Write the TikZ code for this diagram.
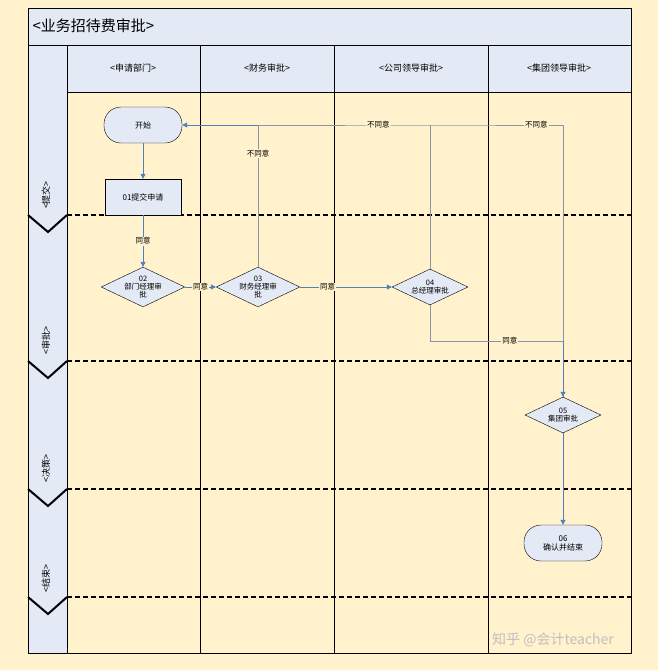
\documentclass[tikz,border=0pt]{standalone}
\usepackage{fontspec}
\setmainfont{Liberation Serif}
\newfontfamily\cjk{Noto Sans CJK SC}
\usetikzlibrary{shapes.geometric,arrows.meta}
\definecolor{cream}{HTML}{FFF2CC}
\definecolor{paleblue}{HTML}{E3EAF5}
\definecolor{flowblue}{HTML}{4F81BD}
\definecolor{linegray}{HTML}{8A96A8}
\tikzset{
  terminal/.style={draw, fill=paleblue, rounded corners=17pt, minimum width=78pt, minimum height=36pt, font=\cjk\fontsize{8}{9}\selectfont, align=center},
  process/.style={draw, fill=paleblue, minimum width=76pt, minimum height=36pt, font=\cjk\fontsize{8}{9}\selectfont},
  decision/.style={draw, fill=paleblue, diamond, aspect=2.1, inner sep=0pt, minimum width=76pt, minimum height=36pt, font=\cjk\fontsize{7.5}{8}\selectfont, align=center},
  flow/.style={draw=flowblue, thick, -{Triangle[length=5pt,width=5pt]}},
  back/.style={draw=linegray, thick},
  tag/.style={fill=cream, inner sep=1pt, font=\cjk\fontsize{7.5}{8}\selectfont},
  lanelabel/.style={rotate=90, font=\cjk\fontsize{9}{10}\selectfont},
  sep/.style={line width=1.5pt, dash pattern=on 5pt off 3pt}
}
\begin{document}
\begin{tikzpicture}[x=1pt, y=-1pt]
  \useasboundingbox (0,0) rectangle (658,670);
  \fill[cream] (0,0) rectangle (658,670);

  % Frame and headers
  \fill[paleblue] (28,8) rectangle (631,45);
  \fill[paleblue] (28,45) rectangle (67,653);
  \fill[paleblue] (67,45) rectangle (631,92);
  \draw[thick] (28,8) rectangle (631,653);
  \draw[thick] (28,45) -- (631,45);
  \draw (67,92) -- (631,92);
  \foreach \x in {67,200,334,488} \draw (\x,45) -- (\x,653);
  \node[anchor=west, font=\cjk\fontsize{15}{17}\selectfont] (title) at (29,26) {<业务招待费审批>};
  \node[font=\cjk\fontsize{9}{10}\selectfont] (h1) at (133,68) {<申请部门>};
  \node[font=\cjk\fontsize{9}{10}\selectfont] (h2) at (267,68) {<财务审批>};
  \node[font=\cjk\fontsize{9}{10}\selectfont] (h3) at (411,68) {<公司领导审批>};
  \node[font=\cjk\fontsize{9}{10}\selectfont] (h4) at (559,68) {<集团领导审批>};

  % Stage separators
  \foreach \y in {215,361,489,597} {
    \draw[sep] (67,\y) -- (631,\y);
    \draw[line width=2pt] (28,\y) -- (48,\y+17) -- (67,\y);
  }
  \node[lanelabel] (l1) at (46,195) {<提交>};
  \node[lanelabel] (l2) at (46,340) {<审批>};
  \node[lanelabel] (l3) at (46,468) {<决策>};
  \node[lanelabel] (l4) at (46,578) {<结束>};

  % Steps
  \node[terminal] (start) at (143,125) {开始};
  \node[process] (s01) at (143,197) {01提交申请};
  \node[decision] (s02) at (143,287) {02\\部门经理审\\批};
  \node[decision] (s03) at (258,287) {03\\财务经理审\\批};
  \node[decision] (s04) at (430,287) {04\\总经理审批};
  \node[decision] (s05) at (563,415) {05\\集团审批};
  \node[terminal] (s06) at (563,543) {06\\确认并结束};

  % Connectors
  \draw[flow] (start) -- (s01);
  \draw[flow] (s01) -- node[tag] {同意} (s02);
  \draw[flow] (s02) -- node[tag] {同意} (s03);
  \draw[flow] (s03) -- node[tag, pos=0.3] {同意} (s04);
  \draw[back] (s03.north) -- node[tag, pos=0.8] {不同意} (258,125);
  \draw[back] (s04.north) -- (430,125);
  \draw[back] (s04.south) -- (430,341) -- node[tag, pos=0.6] {同意} (563,341);
  \draw[back] (s05.north) -- (563,125) -- node[tag, pos=0.2] {不同意} (430,125) -- node[tag, pos=0.3] {不同意} (258,125);
  \draw[flow] (258,125) -- (start);
  \draw[flow] (563,341) -- (s05);
  \draw[flow] (s05) -- (s06);

  % Watermark
  \node[text=gray!50, font=\cjk\fontsize{14}{16}\selectfont] (mark) at (553,640) {知乎 @会计teacher};
\end{tikzpicture}
\end{document}
